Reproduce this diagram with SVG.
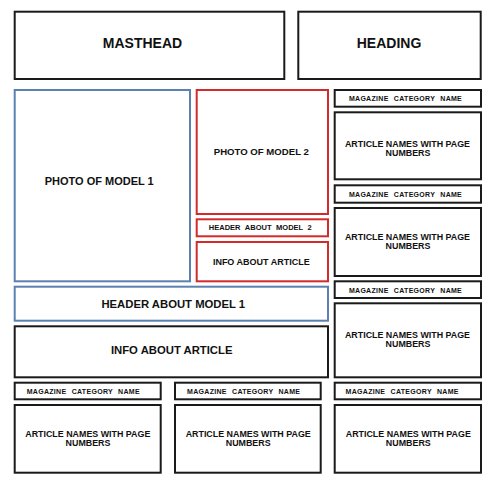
<svg xmlns="http://www.w3.org/2000/svg" width="495" height="495" viewBox="0 0 495 495">
<style>
rect{fill:#fff;stroke-width:2}
.k{stroke:#1a1a1a}
.b{stroke:#5b80b2}
.r{stroke:#d22b2b}
text{font-family:"Liberation Sans",Arial,sans-serif;font-weight:bold;fill:#111;text-anchor:middle}
.mag{font-size:7px;letter-spacing:0.3px;word-spacing:3px}
.art{font-size:8.9px}
</style>
<rect x="0" y="0" width="495" height="495" style="fill:#fff;stroke:none"/>
<g id="masthead"><rect class="k" x="14.7" y="11.7" width="269.6" height="67.3"/><text x="142.5" y="48.3" font-size="14">MASTHEAD</text></g>
<g id="heading"><rect class="k" x="298.3" y="11.7" width="182.4" height="67.3"/><text x="389" y="48.3" font-size="14">HEADING</text></g>
<g id="photo1"><rect class="b" x="14.7" y="90" width="175.3" height="191.3"/><text x="99.2" y="185" font-size="11">PHOTO OF MODEL 1</text></g>
<g id="photo2"><rect class="r" x="196.7" y="90" width="131.3" height="124"/><text x="261.3" y="155" font-size="9.6">PHOTO OF MODEL 2</text></g>
<g id="header2"><rect class="r" x="196.7" y="219.3" width="131.3" height="17"/><text x="260.3" y="230" font-size="7.5" word-spacing="2.5">HEADER ABOUT MODEL 2</text></g>
<g id="info2"><rect class="r" x="196.7" y="242" width="131.3" height="39.3"/><text x="261.3" y="264.5" font-size="9">INFO ABOUT ARTICLE</text></g>
<g id="header1"><rect class="b" x="14.7" y="286.7" width="313.3" height="34"/><text x="173.3" y="307.5" font-size="11.3">HEADER ABOUT MODEL 1</text></g>
<g id="info1"><rect class="k" x="14.7" y="326.3" width="313.3" height="51"/><text x="171.7" y="354.3" font-size="11.3">INFO ABOUT ARTICLE</text></g>
<g id="mag1"><rect class="k" x="334.7" y="90" width="146.3" height="16.7"/><text class="mag" x="405.5" y="101.3">MAGAZINE CATEGORY NAME</text></g>
<g id="art1"><rect class="k" x="334.7" y="112.3" width="146.3" height="67"/><text class="art" x="407.5" y="146.7">ARTICLE NAMES WITH PAGE</text><text class="art" x="408" y="156">NUMBERS</text></g>
<g id="mag2"><rect class="k" x="334.7" y="185.3" width="146.3" height="17.4"/><text class="mag" x="405.5" y="196.8">MAGAZINE CATEGORY NAME</text></g>
<g id="art2"><rect class="k" x="334.7" y="208" width="146.3" height="68"/><text class="art" x="407.5" y="240">ARTICLE NAMES WITH PAGE</text><text class="art" x="408" y="249.3">NUMBERS</text></g>
<g id="mag3"><rect class="k" x="334.7" y="281.3" width="146.3" height="16.7"/><text class="mag" x="405.5" y="292.5">MAGAZINE CATEGORY NAME</text></g>
<g id="art3"><rect class="k" x="334.7" y="303.3" width="146.3" height="74"/><text class="art" x="407.5" y="338.3">ARTICLE NAMES WITH PAGE</text><text class="art" x="408" y="347.3">NUMBERS</text></g>
<g id="mag4"><rect class="k" x="14.7" y="382.7" width="146" height="16.6"/><text class="mag" x="83.3" y="394">MAGAZINE CATEGORY NAME</text></g>
<g id="mag5"><rect class="k" x="175" y="382.7" width="145.7" height="16.6"/><text class="mag" x="243.7" y="394">MAGAZINE CATEGORY NAME</text></g>
<g id="mag6"><rect class="k" x="334.7" y="382.7" width="146.3" height="16.6"/><text class="mag" x="402.2" y="394">MAGAZINE CATEGORY NAME</text></g>
<g id="art4"><rect class="k" x="14.7" y="405" width="146" height="67.7"/><text class="art" x="87.8" y="436.7">ARTICLE NAMES WITH PAGE</text><text class="art" x="88" y="445.7">NUMBERS</text></g>
<g id="art5"><rect class="k" x="175" y="405" width="145.7" height="67.7"/><text class="art" x="248.2" y="436.7">ARTICLE NAMES WITH PAGE</text><text class="art" x="248.2" y="445.7">NUMBERS</text></g>
<g id="art6"><rect class="k" x="334.7" y="405" width="146.3" height="67.7"/><text class="art" x="408.3" y="436.7">ARTICLE NAMES WITH PAGE</text><text class="art" x="408.3" y="445.7">NUMBERS</text></g>
<g id="connectors"></g>
</svg>
